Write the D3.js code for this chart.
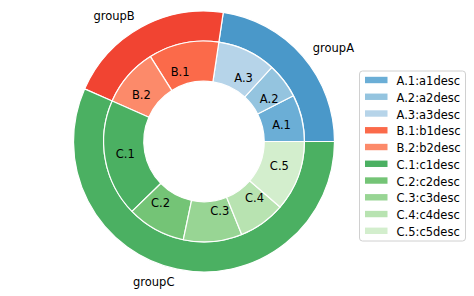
<!DOCTYPE html>
<html>
<head>
<meta charset="utf-8">
<script src="https://cdn.jsdelivr.net/npm/d3@7"></script>
<style>
  html, body { margin: 0; padding: 0; background: #fff; }
  svg { display: block; }
  text { font-family: "DejaVu Sans", sans-serif; }
</style>
</head>
<body>
<svg id="chart" width="474" height="296"></svg>
<script>
const groupNames = ["groupA", "groupB", "groupC"];
const groupValues = [12, 11, 30];
const groupColors = ["#4a98c9", "#f14432", "#4bb062"];

const subNames = ["A.1", "A.2", "A.3", "B.1", "B.2", "C.1", "C.2", "C.3", "C.4", "C.5"];
const subValues = [4, 3, 5, 6, 5, 10, 5, 5, 4, 6];
const subColors = ["#6baed6", "#94c4df", "#b6d4e9", "#fb6a4a", "#fc8a6a",
                   "#4bb062", "#74c476", "#98d594", "#b8e3b1", "#d3eecd"];
const legendLabels = ["A.1:a1desc", "A.2:a2desc", "A.3:a3desc", "B.1:b1desc", "B.2:b2desc",
                      "C.1:c1desc", "C.2:c2desc", "C.3:c3desc", "C.4:c4desc", "C.5:c5desc"];

const svg = d3.select("#chart");
const cx = 204, cy = 141.5;
const R = 130.5;            // outer radius of the outer ring
const unit = R / 1.3;       // matplotlib radius 1.0
const fs = 11.5;

const g = svg.append("g").attr("transform", `translate(${cx},${cy})`);

// counterclockwise from 3 o'clock like matplotlib
const pie = d3.pie().sort(null).startAngle(Math.PI / 2).endAngle(Math.PI / 2 - 2 * Math.PI);

const outerArcs = pie(groupValues);
const innerArcs = pie(subValues);

const outerArc = d3.arc().innerRadius(unit * 1.0).outerRadius(unit * 1.3);
const innerArc = d3.arc().innerRadius(unit * 0.6).outerRadius(unit * 1.0);

g.selectAll("path.outer").data(outerArcs).join("path")
  .attr("class", "outer")
  .attr("d", outerArc)
  .attr("fill", (d, i) => groupColors[i])
  .attr("stroke", "#fff").attr("stroke-width", 1.2).attr("stroke-linejoin", "round");

g.selectAll("path.inner").data(innerArcs).join("path")
  .attr("class", "inner")
  .attr("d", innerArc)
  .attr("fill", (d, i) => subColors[i])
  .attr("stroke", "#fff").attr("stroke-width", 1.2).attr("stroke-linejoin", "round");

function labelPos(d, r) {
  const m = (d.startAngle + d.endAngle) / 2;
  return [r * Math.sin(m), -r * Math.cos(m)];
}

g.selectAll("text.outer").data(outerArcs).join("text")
  .attr("class", "outer")
  .each(function (d, i) {
    const [x, y] = labelPos(d, unit * 1.3 * 1.1);
    d3.select(this).attr("x", x).attr("y", y)
      .attr("text-anchor", x > 0 ? "start" : "end");
  })
  .attr("dy", "0.37em")
  .attr("font-size", fs)
  .attr("fill", "#000")
  .text((d, i) => groupNames[i]);

g.selectAll("text.inner").data(innerArcs).join("text")
  .attr("class", "inner")
  .each(function (d, i) {
    const [x, y] = labelPos(d, unit * 0.7);
    d3.select(this).attr("x", x).attr("y", y)
      .attr("text-anchor", x > 0 ? "start" : "end");
  })
  .attr("dy", "0.32em")
  .attr("font-size", fs)
  .attr("fill", "#000")
  .text((d, i) => subNames[i]);

// legend
const lx = 359, ly = 70.5, lw = 106, lh = 170;
const leg = svg.append("g");
leg.append("rect")
  .attr("x", lx + 0.5).attr("y", ly + 0.5)
  .attr("width", lw).attr("height", lh)
  .attr("rx", 3).attr("ry", 3)
  .attr("fill", "#fff").attr("fill-opacity", 0.8)
  .attr("stroke", "#d0d0d0").attr("stroke-width", 1);

const yLeg = d3.scalePoint().domain(legendLabels).range([80, 230.8]);

leg.selectAll("rect.sw").data(legendLabels).join("rect")
  .attr("class", "sw")
  .attr("x", 365).attr("y", d => yLeg(d) - 3.2)
  .attr("width", 22.5).attr("height", 6.4)
  .attr("fill", (d, i) => subColors[i]);

leg.selectAll("text.lt").data(legendLabels).join("text")
  .attr("class", "lt")
  .attr("x", 396.5).attr("y", d => yLeg(d))
  .attr("dy", "0.44em")
  .attr("font-size", fs)
  .attr("fill", "#000")
  .text(d => d);
</script>
</body>
</html>
